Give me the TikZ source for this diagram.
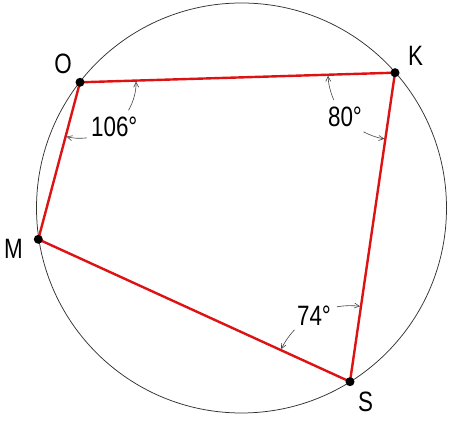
\documentclass[tikz,border=0pt]{standalone}
\usepackage{fontspec}
\usepackage{graphicx}
\setmainfont{Liberation Sans}
\usetikzlibrary{arrows.meta}
\definecolor{quadred}{RGB}{222,18,18}
\definecolor{arcgray}{RGB}{70,70,70}
\newcommand{\lbltext}[1]{\scalebox{0.8}[1]{#1}}
\tikzset{
  quad/.style={draw=quadred, line width=2.4pt, line join=round},
  circ/.style={draw=black!80, line width=0.75pt},
  dot/.style={circle, fill=black, inner sep=0pt, minimum size=9pt},
  lbl/.style={inner sep=0pt, font=\fontsize{28}{28}\selectfont},
  arr/.style={draw=arcgray, line width=0.6pt, -{Straight Barb[length=5pt,width=5pt]}, shorten >=1pt}
}
\begin{document}
\begin{tikzpicture}[x=1pt,y=1pt]
\useasboundingbox (0,0) rectangle (450,427);
\fill[white] (0,0) rectangle (450,427);
\coordinate (C) at (241.5,219);
\coordinate (O) at (80,344.7);
\coordinate (K) at (395,354.3);
\coordinate (M) at (38.3,187.7);
\coordinate (S) at (350,45.3);
\draw[circ] (C) circle[radius=205pt];
\draw[quad] (O) -- (K) -- (S) -- (M) -- cycle;
% angle arrows at O
\draw[arr] ([shift={(-30:56pt)}]O) arc[start angle=-30, end angle=1.745, radius=56pt];
\draw[arr] ([shift={(-83:56pt)}]O) arc[start angle=-83, end angle=-104.87, radius=56pt];
% angle arrows at K
\draw[arr] ([shift={(204:67pt)}]K) arc[start angle=204, end angle=181.745, radius=67pt];
\draw[arr] ([shift={(242:67pt)}]K) arc[start angle=242, end angle=261.71, radius=67pt];
% angle arrows at S
\draw[arr] ([shift={(100:76pt)}]S) arc[start angle=100, end angle=81.71, radius=76pt];
\draw[arr] ([shift={(137:76pt)}]S) arc[start angle=137, end angle=155.45, radius=76pt];
% dots
\node[dot] (dO) at (O) {};
\node[dot] (dK) at (K) {};
\node[dot] (dM) at (M) {};
\node[dot] (dS) at (S) {};
% labels
\node[lbl] (lO) at (63,363) {\lbltext{O}};
\node[lbl] (lK) at (415.5,371.5) {\lbltext{K}};
\node[lbl] (lM) at (13.5,178) {\lbltext{M}};
\node[lbl] (lS) at (365.5,25.3) {\lbltext{S}};
\node[lbl] (a106) at (114.3,300.3) {\lbltext{106°}};
\node[lbl] (a80) at (345,310.3) {\lbltext{80°}};
\node[lbl] (a74) at (314,111.5) {\lbltext{74°}};
\end{tikzpicture}
\end{document}
